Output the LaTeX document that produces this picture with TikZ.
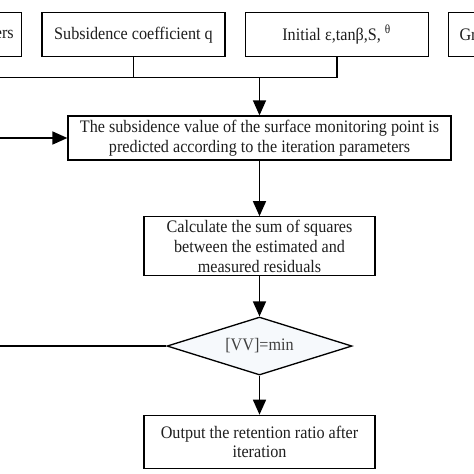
\documentclass[tikz,border=0pt]{standalone}
\usepackage{fontspec}
\setmainfont{Liberation Serif}[FakeStretch=0.92]
\usepackage{tikz}
\usetikzlibrary{positioning,shapes.geometric,arrows.meta}
\definecolor{decfill}{RGB}{246,249,252}
\definecolor{txtgray}{RGB}{30,30,30}
\tikzstyle{block} = [rectangle, draw, line width=0.75pt, align=center, inner sep=2pt, text=txtgray, font=\fontsize{10}{11.2}\selectfont]
\tikzstyle{decision} = [diamond, draw, fill=decfill, line width=0.75pt, aspect=3.2, inner sep=0pt, minimum width=3.7cm, minimum height=1.16cm, text=txtgray!85, font=\fontsize{10}{11.2}\selectfont]
\tikzstyle{line} = [draw, line width=0.9pt, -{Triangle[length=0.3cm,width=0.26cm]}]
\tikzstyle{merge} = [draw, line width=0.9pt]

\begin{document}
\begin{tikzpicture}[x=0.02cm, y=-0.02cm, node distance=0.38cm]
    \clip (0,0) rectangle (474,474);
    % Input parameters
    \node [block, minimum width=3.66cm, minimum height=0.88cm] (coef) at (133.5,34.7)
      {Subsidence coefficient q};
    \node [block, minimum width=3.66cm, minimum height=0.88cm, right=of coef] (init)
      {Initial ε,tanβ,S, \textsuperscript{θ}};
    \node [block, minimum height=0.88cm, inner xsep=0.16cm, text width=3.34cm, align=right, left=of coef] (known)
      {ers};
    \node [block, minimum height=0.88cm, inner xsep=0.22cm, text width=3.22cm, align=left, right=of init] (grid)
      {Gr};
    % Iteration
    \node [block, minimum width=7.66cm, minimum height=0.88cm] (predict) at (259.5,138)
      {The subsidence value of the surface monitoring point is\\
       predicted according to the iteration parameters};
    \node [block, minimum width=4.62cm, minimum height=1.16cm, below=1.11cm of predict] (squares)
      {Calculate the sum of squares\\between the estimated and\\measured residuals};
    \node [decision, below=0.8cm of squares] (check) {[VV]=min};
    \node [block, minimum width=4.62cm, minimum height=1.06cm, below=0.78cm of check] (output)
      {Output the retention ratio after\\iteration};
    \coordinate [above=0.76cm of predict.north] (split);
    % Lines
    \path [merge] (known.south) |- (split);
    \path [merge] (coef.south) |- (split);
    \path [merge] (init.south) |- (split);
    \path [line] (split) -- (predict);
    \path [line] (predict) -- (squares);
    \path [line] (squares) -- (check);
    \path [line] (check.west) -- ++(-190,0) |- (predict.west);
    \path [line] (check) -- (output);
\end{tikzpicture}
\end{document}
